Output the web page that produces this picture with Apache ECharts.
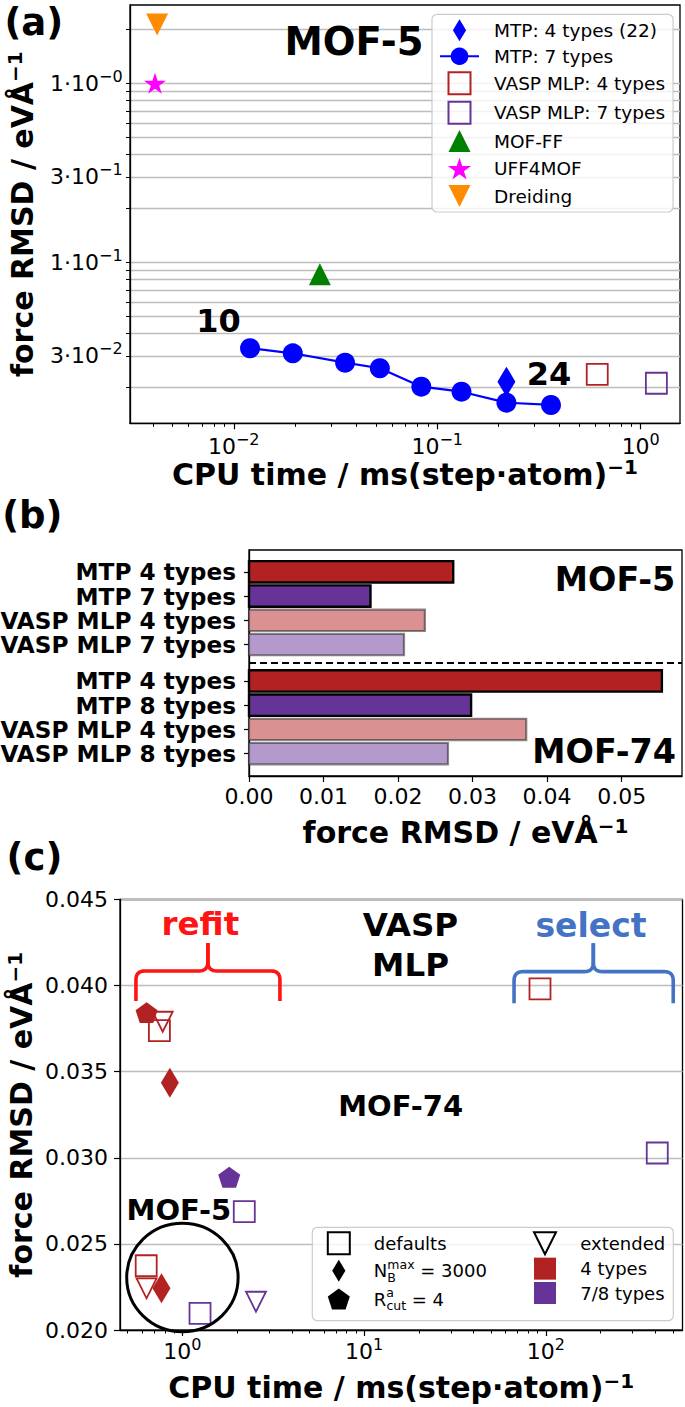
<!DOCTYPE html>
<html><head><meta charset="utf-8">
<script src="https://cdn.jsdelivr.net/npm/echarts@6/dist/echarts.min.js"></script>
<style>html,body{margin:0;padding:0;background:#fff;}#chart{width:685px;height:1407px;}</style>
</head><body><div id="chart"></div>
<script>
// ================= DATA =================
// Panel (a): MOF-5, CPU time vs force RMSD (log-log)
const mtp7Time = [0.01202, 0.0195, 0.03524, 0.05224, 0.08351, 0.1316, 0.2188, 0.3623];
const mtp7Rmsd = [0.03309, 0.03101, 0.02748, 0.02557, 0.02018, 0.01892, 0.01643, 0.01595];
const mtp4Point = [0.2188, 0.02153];
const vasp4Point = [0.6114, 0.02367];
const vasp7Point = [1.194, 0.02109];
const mofffPoint = [0.02649, 0.0858];
const uffPoint = [0.0041, 1.0];
const dreidingPoint = [0.0042, 2.13];
const aXTickVals = [0.01, 0.1, 1];
const aXMinorVals = [0.004,0.005,0.006,0.007,0.008,0.009,0.02,0.03,0.04,0.05,0.06,0.07,0.08,0.09,0.2,0.3,0.4,0.5,0.6,0.7,0.8,0.9];
const aYLabelVals = [1, 0.3, 0.1, 0.03];
const aYGridVals = [0.02,0.03,0.04,0.05,0.06,0.07,0.08,0.09,0.1,0.2,0.3,0.4,0.5,0.6,0.7,0.8,0.9,1,2];

// Panel (b): force RMSD bars
const bLabelsMOF5 = ['MTP 4 types', 'MTP 7 types', 'VASP MLP 4 types', 'VASP MLP 7 types'];
const bValuesMOF5 = [0.0274, 0.0163, 0.0236, 0.0208];
const bLabelsMOF74 = ['MTP 4 types', 'MTP 8 types', 'VASP MLP 4 types', 'VASP MLP 8 types'];
const bValuesMOF74 = [0.0554, 0.0298, 0.0372, 0.0267];
const bXTickVals = [0, 0.01, 0.02, 0.03, 0.04, 0.05];

// Panel (c): VASP MLP variants, CPU time vs force RMSD
const cRedSquare = [[0.747, 0.03738], [92.8, 0.03981], [0.632, 0.02373]];
const cPurpleSquare = [[410, 0.03028], [2.19, 0.02687], [1.25, 0.02097]];
const cRedDiamond = [[0.853, 0.03436], [0.767, 0.02242]];
const cRedPentagon = [[0.635, 0.03843]];
const cPurplePentagon = [[1.81, 0.02887]];
const cRedTriangle = [[0.779, 0.0379], [0.635, 0.02242]];
const cPurpleTriangle = [[2.54, 0.02164]];
const cXTickVals = [1, 10, 100];
const cXMinorVals = [0.5,0.6,0.7,0.8,0.9,2,3,4,5,6,7,8,9,20,30,40,50,60,70,80,90,200,300,400,500];
const cYTickVals = [0.020, 0.025, 0.030, 0.035, 0.040, 0.045];

// ================= STYLE =================
const FONT = '"DejaVu Sans", sans-serif';
const RED = '#b22222', PURPLE = '#663399', BLUE = '#0000ff';
const SQ = 'path://M-1,-1L1,-1L1,1L-1,1Z';
const TRI_UP = 'path://M0,-1L1,1L-1,1Z';
const TRI_DN = 'path://M-1,-1L1,-1L0,1Z';
const DIAM = 'path://M0,-1L0.6,0L0,1L-0.6,0Z';
const STAR = 'path://M0,-1L0.2245,-0.309L0.9511,-0.309L0.3633,0.118L0.5878,0.809L0,0.382L-0.5878,0.809L-0.3633,0.118L-0.9511,-0.309L-0.2245,-0.309Z';
const PENT = 'path://M0,-1L0.9511,-0.309L0.5878,0.809L-0.5878,0.809L-0.9511,-0.309Z';
const AXLINE = {show: true, onZero: false, lineStyle: {color: '#000', width: 1.3}};
const GRIDLINE = {show: true, lineStyle: {color: '#bdbdbd', width: 1.3}};
const tickRich = {
  m: {fontFamily: FONT, fontSize: 22, lineHeight: 30, color: '#000'},
  s: {fontFamily: FONT, fontSize: 16, lineHeight: 16, verticalAlign: 'top', color: '#000'}
};
const nameRich = {
  m: {fontFamily: FONT, fontWeight: 'bold', fontSize: 30, lineHeight: 34, color: '#000'},
  s: {fontFamily: FONT, fontWeight: 'bold', fontSize: 20, lineHeight: 20, verticalAlign: 'top', color: '#000'}
};
const MINUS = '\u2212';
function pow10Label(v) {
  const e = Math.round(Math.log10(v));
  return '{m|10}{s|' + (e < 0 ? MINUS + (-e) : String(e)) + '}';
}
function mantLabel(v) {
  const e = Math.floor(Math.log10(v) + 1e-9);
  const m = Math.round(v / Math.pow(10, e));
  return '{m|' + m + '\u00b710}{s|' + MINUS + Math.abs(e) + '}';
}
const RMSD_NAME = '{m|force RMSD / eV\u00c5}{s|' + MINUS + '1}';
const CPU_NAME = '{m|CPU time / ms(step\u00b7atom)}{s|' + MINUS + '1}';

// bar positions: MOF-5 group, gap, MOF-74 group
const bLabels = bLabelsMOF5.concat(bLabelsMOF74);
const bPos = bLabelsMOF5.map((_, i) => i).concat(bLabelsMOF74.map((_, i) => bLabelsMOF5.length + 0.5 + i));
const barStyles = [
  {fill: RED, stroke: '#000', lw: 2.4},
  {fill: PURPLE, stroke: '#000', lw: 2.4},
  {fill: '#d99191', stroke: 'rgba(40,40,40,0.55)', lw: 2.2},
  {fill: '#b399cc', stroke: 'rgba(40,40,40,0.55)', lw: 2.2}
];
const barData = bValuesMOF5.map((v, i) => [v, bPos[i], i])
  .concat(bValuesMOF74.map((v, i) => [v, bPos[bLabelsMOF5.length + i], i]));

const legendRich = {
  t: {fontFamily: FONT, fontSize: 18, lineHeight: 26, color: '#000'},
  sp: {fontFamily: FONT, fontSize: 12.5, lineHeight: 13, verticalAlign: 'top', color: '#000'},
  sb: {fontFamily: FONT, fontSize: 12.5, lineHeight: 13, verticalAlign: 'bottom', color: '#000', width: 0.1},
  sp0: {fontFamily: FONT, fontSize: 12.5, lineHeight: 13, verticalAlign: 'top', color: '#000', width: 0.1},
  sb0: {fontFamily: FONT, fontSize: 12.5, lineHeight: 13, verticalAlign: 'bottom', color: '#000'}
};
const legendText = {
  'defaults': '{t|defaults}',
  'NBmax': '{t|N}{sb|B}{sp|max}{t| = 3000}',
  'Rcut': '{t|R}{sp0|a}{sb0|cut}{t| = 4}',
  'extended': '{t|extended}',
  '4 types': '{t|4 types}',
  '7/8 types': '{t|7/8 types}'
};

const option = {
  animation: false,
  backgroundColor: '#fff',
  textStyle: {fontFamily: FONT},
  grid: [
    {left: 130, top: 5, width: 550, height: 418.3, show: true, borderColor: '#000', borderWidth: 1.3, containLabel: false, outerBoundsMode: 'none'},
    {left: 249, top: 550, width: 433, height: 226, show: true, borderColor: '#000', borderWidth: 1.3, containLabel: false, outerBoundsMode: 'none'},
    {left: 120, top: 899.5, width: 562.5, height: 430.5, show: true, borderColor: '#000', borderWidth: 1.3, containLabel: false, outerBoundsMode: 'none'}
  ],
  xAxis: [
    {gridIndex: 0, type: 'log', logBase: 10, min: 0.00309, max: 1.56, position: 'bottom',
     axisLine: AXLINE, splitLine: {show: false}, minorTick: {show: false},
     axisTick: {show: true, length: 6, customValues: aXTickVals, lineStyle: {color: '#000', width: 1.2}},
     axisLabel: {customValues: aXTickVals, formatter: pow10Label, rich: tickRich, margin: 8},
     name: CPU_NAME, nameLocation: 'middle', nameGap: 34, nameMoveOverlap: false, nameTextStyle: {rich: nameRich}},
    {gridIndex: 0, type: 'log', logBase: 10, min: 0.00309, max: 1.56, position: 'bottom',
     axisLine: {show: false}, splitLine: {show: false}, axisLabel: {show: false},
     axisTick: {show: true, length: 3.5, customValues: aXMinorVals, lineStyle: {color: '#000', width: 1}}},
    {gridIndex: 1, type: 'value', min: 0, max: 0.0581, position: 'bottom',
     axisLine: AXLINE, splitLine: {show: false},
     axisTick: {show: true, length: 6, customValues: bXTickVals, lineStyle: {color: '#000', width: 1.2}},
     axisLabel: {customValues: bXTickVals, formatter: v => v.toFixed(2), fontFamily: FONT, fontSize: 22, lineHeight: 22, color: '#000', margin: 9.5},
     name: RMSD_NAME, nameLocation: 'middle', nameGap: 39.7, nameMoveOverlap: false, nameTextStyle: {rich: nameRich}},
    {gridIndex: 2, type: 'log', logBase: 10, min: 0.4535, max: 564.5, position: 'bottom',
     axisLine: AXLINE, splitLine: {show: false},
     axisTick: {show: true, length: 6, customValues: cXTickVals, lineStyle: {color: '#000', width: 1.2}},
     axisLabel: {customValues: cXTickVals, formatter: pow10Label, rich: tickRich, margin: 6.3},
     name: CPU_NAME, nameLocation: 'middle', nameGap: 40.7, nameMoveOverlap: false, nameTextStyle: {rich: nameRich}},
    {gridIndex: 2, type: 'log', logBase: 10, min: 0.4535, max: 564.5, position: 'bottom',
     axisLine: {show: false}, splitLine: {show: false}, axisLabel: {show: false},
     axisTick: {show: true, length: 3.5, customValues: cXMinorVals, lineStyle: {color: '#000', width: 1}}}
  ],
  yAxis: [
    {gridIndex: 0, type: 'log', logBase: 10, min: 0.0126, max: 2.737, position: 'left',
     axisLine: AXLINE, splitLine: GRIDLINE, minorTick: {show: false},
     axisTick: {show: true, length: 4, customValues: aYGridVals, lineStyle: {color: '#000', width: 1}},
     axisLabel: {customValues: aYLabelVals, formatter: mantLabel, rich: tickRich, margin: 7.4},
     name: RMSD_NAME, nameLocation: 'middle', nameRotate: 90, nameGap: 91, nameMoveOverlap: false, nameTextStyle: {rich: nameRich}},
    {gridIndex: 1, type: 'value', inverse: true, min: -0.9, max: 8.42, position: 'left',
     axisLine: AXLINE, splitLine: {show: false},
     axisTick: {show: true, length: 5, customValues: bPos, lineStyle: {color: '#000', width: 1.2}},
     axisLabel: {customValues: bPos, margin: 13, fontFamily: FONT, fontWeight: 'bold', fontSize: 23.2, color: '#000',
       formatter: function (v) { let k = 0; bPos.forEach((p, i) => { if (Math.abs(p - v) < Math.abs(bPos[k] - v)) k = i; }); return bLabels[k]; }}},
    {gridIndex: 2, type: 'value', min: 0.02, max: 0.045, interval: 0.005, position: 'left',
     axisLine: AXLINE, splitLine: GRIDLINE,
     axisTick: {show: true, length: 6, customValues: cYTickVals, lineStyle: {color: '#000', width: 1.2}},
     axisLabel: {customValues: cYTickVals, formatter: v => v.toFixed(3), fontFamily: FONT, fontSize: 22, color: '#000', margin: 12},
     name: RMSD_NAME, nameLocation: 'middle', nameRotate: 90, nameGap: 81.3, nameMoveOverlap: false, nameTextStyle: {rich: nameRich}}
  ],
  legend: [
    {id: 'legA', orient: 'vertical', left: 432, top: 14.3, padding: [5, 8, 5, 7], itemGap: 5.45, itemWidth: 39, itemHeight: 22,
     backgroundColor: 'rgba(255,255,255,0.8)', borderColor: '#cccccc', borderWidth: 1.2, borderRadius: 5, selectedMode: false,
     textStyle: {fontFamily: FONT, fontSize: 18.5, color: '#000', padding: [0, 0, 0, 10]},
     data: ['MTP: 4 types (22)', 'MTP: 7 types', 'VASP MLP: 4 types', 'VASP MLP: 7 types', 'MOF-FF', 'UFF4MOF', 'Dreiding']},
    {id: 'legC1', orient: 'vertical', left: 326.8, top: 1231.3, padding: 0, itemGap: 2.35, itemWidth: 22, itemHeight: 22, selectedMode: false,
     textStyle: {fontFamily: FONT, fontSize: 18, color: '#000', rich: legendRich, padding: [0, 0, 0, 19]}, formatter: n => legendText[n],
     data: ['defaults', 'NBmax', 'Rcut']},
    {id: 'legC2', orient: 'vertical', left: 533, top: 1231.3, padding: 0, itemGap: 2.35, itemWidth: 22, itemHeight: 22, selectedMode: false,
     textStyle: {fontFamily: FONT, fontSize: 18, color: '#000', rich: legendRich, padding: [0, 0, 0, 19.3]}, formatter: n => legendText[n],
     data: ['extended', '4 types', '7/8 types']}
  ],
  series: [
    // ---- panel (a)
    {name: 'MTP: 7 types', type: 'line', xAxisIndex: 0, yAxisIndex: 0, symbol: 'circle', symbolSize: 20,
     itemStyle: {color: BLUE, opacity: 1}, lineStyle: {color: BLUE, width: 2.2}, z: 3,
     data: mtp7Time.map((t, i) => [t, mtp7Rmsd[i]])},
    {name: 'MTP: 4 types (22)', type: 'scatter', xAxisIndex: 0, yAxisIndex: 0, symbol: DIAM, symbolSize: [18, 30],
     itemStyle: {color: BLUE, opacity: 1}, z: 4, data: [mtp4Point]},
    {name: 'VASP MLP: 4 types', type: 'scatter', xAxisIndex: 0, yAxisIndex: 0, symbol: SQ, symbolSize: 21,
     itemStyle: {color: 'transparent', borderColor: RED, borderWidth: 1.8, opacity: 1}, data: [vasp4Point]},
    {name: 'VASP MLP: 7 types', type: 'scatter', xAxisIndex: 0, yAxisIndex: 0, symbol: SQ, symbolSize: 21,
     itemStyle: {color: 'transparent', borderColor: PURPLE, borderWidth: 1.8, opacity: 1}, data: [vasp7Point]},
    {name: 'MOF-FF', type: 'scatter', xAxisIndex: 0, yAxisIndex: 0, symbol: TRI_UP, symbolSize: 22,
     itemStyle: {color: '#008000', opacity: 1}, data: [mofffPoint]},
    {name: 'UFF4MOF', type: 'scatter', xAxisIndex: 0, yAxisIndex: 0, symbol: STAR, symbolSize: 22, symbolKeepAspect: true,
     itemStyle: {color: '#ff00ff', opacity: 1}, data: [uffPoint]},
    {name: 'Dreiding', type: 'scatter', xAxisIndex: 0, yAxisIndex: 0, symbol: TRI_DN, symbolSize: 22,
     itemStyle: {color: '#ff8c00', opacity: 1}, data: [dreidingPoint]},
    // ---- panel (b)
    {name: 'bars', type: 'custom', xAxisIndex: 2, yAxisIndex: 1, clip: false, encode: {x: 0, y: 1},
     data: barData,
     renderItem: function (params, api) {
       const v = api.value(0), p = api.value(1), k = api.value(2);
       const s = api.coord([0, p]);
       const e = api.coord([v, p]);
       const h = api.size([0, 1])[1] * 0.88;
       const st = barStyles[k];
       return {type: 'rect', shape: {x: s[0], y: s[1] - h / 2, width: e[0] - s[0], height: h},
               style: {fill: st.fill, stroke: st.stroke, lineWidth: st.lw}};
     },
     markLine: {silent: true, symbol: ['none', 'none'], label: {show: false}, animation: false,
       lineStyle: {color: '#000', type: [7, 4], width: 2}, emphasis: {disabled: true},
       data: [{yAxis: (bPos[bLabelsMOF5.length - 1] + bPos[bLabelsMOF5.length]) / 2}]}},
    // ---- panel (c)
    {name: 'c-red-pentagon', type: 'scatter', xAxisIndex: 3, yAxisIndex: 2, symbol: PENT, symbolSize: 22, symbolKeepAspect: true,
     itemStyle: {color: RED, opacity: 1}, data: cRedPentagon},
    {name: 'c-purple-pentagon', type: 'scatter', xAxisIndex: 3, yAxisIndex: 2, symbol: PENT, symbolSize: 22, symbolKeepAspect: true,
     itemStyle: {color: PURPLE, opacity: 1}, data: cPurplePentagon},
    {name: 'c-red-square', type: 'scatter', xAxisIndex: 3, yAxisIndex: 2, symbol: SQ, symbolSize: 21,
     itemStyle: {color: 'transparent', borderColor: RED, borderWidth: 1.8, opacity: 1}, data: cRedSquare},
    {name: 'c-purple-square', type: 'scatter', xAxisIndex: 3, yAxisIndex: 2, symbol: SQ, symbolSize: 21,
     itemStyle: {color: 'transparent', borderColor: PURPLE, borderWidth: 1.8, opacity: 1}, data: cPurpleSquare},
    {name: 'c-red-triangle', type: 'scatter', xAxisIndex: 3, yAxisIndex: 2, symbol: TRI_DN, symbolSize: 20,
     itemStyle: {color: 'transparent', borderColor: RED, borderWidth: 1.8, opacity: 1}, data: cRedTriangle},
    {name: 'c-purple-triangle', type: 'scatter', xAxisIndex: 3, yAxisIndex: 2, symbol: TRI_DN, symbolSize: 20,
     itemStyle: {color: 'transparent', borderColor: PURPLE, borderWidth: 1.8, opacity: 1}, data: cPurpleTriangle},
    {name: 'c-red-diamond', type: 'scatter', xAxisIndex: 3, yAxisIndex: 2, symbol: DIAM, symbolSize: [18, 30],
     itemStyle: {color: RED, opacity: 1}, data: cRedDiamond},
    // legend-only entries for panel (c)
    {name: 'defaults', type: 'scatter', xAxisIndex: 3, yAxisIndex: 2, symbol: SQ, itemStyle: {color: 'transparent', borderColor: '#000', borderWidth: 1.8, opacity: 1}, data: []},
    {name: 'NBmax', type: 'scatter', xAxisIndex: 3, yAxisIndex: 2, symbol: DIAM, itemStyle: {color: '#000', opacity: 1}, data: []},
    {name: 'Rcut', type: 'scatter', xAxisIndex: 3, yAxisIndex: 2, symbol: PENT, itemStyle: {color: '#000', opacity: 1}, data: []},
    {name: 'extended', type: 'scatter', xAxisIndex: 3, yAxisIndex: 2, symbol: TRI_DN, itemStyle: {color: 'transparent', borderColor: '#000', borderWidth: 1.8, opacity: 1}, data: []},
    {name: '4 types', type: 'scatter', xAxisIndex: 3, yAxisIndex: 2, symbol: SQ, itemStyle: {color: RED, opacity: 1}, data: []},
    {name: '7/8 types', type: 'scatter', xAxisIndex: 3, yAxisIndex: 2, symbol: SQ, itemStyle: {color: PURPLE, opacity: 1}, data: []}
  ]
};

const chart = echarts.init(document.getElementById('chart'), null, {renderer: 'svg', width: 685, height: 1407});
chart.setOption(option);

// ================= ANNOTATIONS (anchored in data coordinates) =================
const A = {xAxisIndex: 0, yAxisIndex: 0};
const B = {xAxisIndex: 2, yAxisIndex: 1};
const C = {xAxisIndex: 3, yAxisIndex: 2};
const toPx = (f, pt) => chart.convertToPixel(f, pt);
const textNotes = [
  {f: A, at: [0.039, 1.72], text: 'MOF-5', size: 38.5, color: '#000', align: 'center'},
  {f: A, at: [0.00841, 0.0471], text: '10', size: 32, color: '#000', align: 'center'},
  {f: A, at: [0.354, 0.0237], text: '24', size: 32, color: '#000', align: 'center'},
  {f: B, at: [0.0572, 0.30], text: 'MOF-5', size: 33.4, color: '#000', align: 'right'},
  {f: B, at: [0.0573, 7.40], text: 'MOF-74', size: 33.4, color: '#000', align: 'right'},
  {f: C, at: [1.256, 0.04359], text: 'refit', size: 32.5, color: '#ff1414', align: 'center'},
  {f: C, at: [177, 0.0435], text: 'select', size: 33, color: '#4472c4', align: 'center'},
  {f: C, at: [17.98, 0.04352], text: 'VASP', size: 32.5, color: '#000', align: 'center'},
  {f: C, at: [18.0, 0.04117], text: 'MLP', size: 32.5, color: '#000', align: 'center'},
  {f: C, at: [15.88, 0.03302], text: 'MOF-74', size: 29, color: '#000', align: 'center'},
  {f: C, at: [0.956, 0.02697], text: 'MOF-5', size: 29, color: '#000', align: 'center'}
];
const graphics = [];
textNotes.forEach(n => {
  const p = toPx(n.f, n.at);
  graphics.push({type: 'text', z: 20, style: {text: n.text, x: p[0], y: p[1], align: n.align, verticalAlign: 'middle',
    font: 'bold ' + n.size + 'px ' + FONT, fill: n.color}});
});
// braces
function bracePts(x1, x2, tip, yh, bottom, top, r) {
  const left = [], right = [];
  function quad(a, c, b, arr) { for (let i = 1; i <= 8; i++) { const t = i / 8; arr.push([(1-t)*(1-t)*a[0] + 2*(1-t)*t*c[0] + t*t*b[0], (1-t)*(1-t)*a[1] + 2*(1-t)*t*c[1] + t*t*b[1]]); } }
  left.push([x1, bottom], [x1, yh + r]);
  quad([x1, yh + r], [x1, yh], [x1 + r, yh], left);
  left.push([tip - r, yh]);
  quad([tip - r, yh], [tip, yh], [tip, yh - r], left);
  left.push([tip, top]);
  right.push([x2, bottom], [x2, yh + r]);
  quad([x2, yh + r], [x2, yh], [x2 - r, yh], right);
  right.push([tip + r, yh]);
  quad([tip + r, yh], [tip, yh], [tip, yh - r], right);
  right.push([tip, top]);
  return [left, right];
}
const braces = [
  {x: [0.555, 3.44, 1.381], y: [0.04085, 0.0391, 0.04247], color: '#ff1414'},
  {x: [66.8, 502, 182.4], y: [0.04081, 0.03897, 0.04246], color: '#4472c4'}
];
braces.forEach(b => {
  const p1 = toPx(C, [b.x[0], b.y[0]]), p2 = toPx(C, [b.x[1], b.y[1]]), pt = toPx(C, [b.x[2], b.y[2]]);
  const pb = toPx(C, [b.x[0], b.y[1]]);
  const halves = bracePts(p1[0], p2[0], pt[0], p1[1], pb[1], pt[1], 9);
  halves.forEach(h => graphics.push({type: 'polyline', z: 15, shape: {points: h},
    style: {fill: 'none', stroke: b.color, lineWidth: 3.6, lineJoin: 'round'}}));
});
// circle around MOF-5 cluster
const cc = toPx(C, [1.0, 0.02305]);
graphics.push({type: 'ellipse', z: 15, shape: {cx: cc[0], cy: cc[1], rx: 55.7, ry: 54.2}, style: {fill: 'none', stroke: '#000', lineWidth: 3}});
// legend (c) frame
graphics.push({type: 'rect', z: 1, shape: {x: 312.3, y: 1227.3, width: 361, height: 93.4, r: 5},
  style: {fill: 'rgba(255,255,255,0.8)', stroke: '#cccccc', lineWidth: 1.2}});
// panel labels
[['(a)', 4.4, 22.5], ['(b)', 2.2, 515.7], ['(c)', 6.6, 857.4]].forEach(l => {
  graphics.push({type: 'text', z: 20, style: {text: l[0], x: l[1], y: l[2], align: 'left', verticalAlign: 'middle',
    font: 'bold 37px ' + FONT, fill: '#000'}});
});
chart.setOption({graphic: graphics});
</script>
</body></html>
